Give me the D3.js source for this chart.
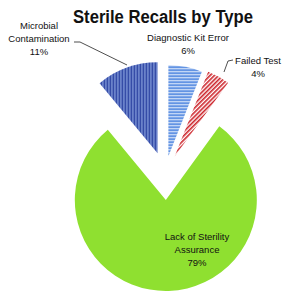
<!DOCTYPE html>
<html>
<head>
<meta charset="utf-8">
<script src="https://cdn.jsdelivr.net/npm/d3@7"></script>
<style>
  body { margin: 0; background: #fff; }
  text { font-family: "Liberation Sans", Arial, sans-serif; fill: #111; }
</style>
</head>
<body>
<svg width="290" height="299"></svg>
<script>
var categories = ["Diagnostic Kit Error", "Failed Test", "Lack of Sterility Assurance", "Microbial Contamination"];
var values = [6, 4, 79, 11];
var pctLabels = ["6%", "4%", "79%", "11%"];

var svg = d3.select("svg"),
  width = +svg.attr("width"),
  height = +svg.attr("height");

var cx = 165, cy = 174, radius = 91;
var explode = [18, 20, 26, 22];
var fills = ["url(#hstripe)", "url(#dstripe)", "#8fe030", "url(#vstripe)"];

var defs = svg.append("defs");

var v = defs.append("pattern").attr("id", "vstripe")
  .attr("patternUnits", "userSpaceOnUse").attr("width", 3).attr("height", 3);
v.append("rect").attr("width", 3).attr("height", 3).attr("fill", "#8ea6e2");
v.append("rect").attr("width", 1.6).attr("height", 3).attr("fill", "#22389a");

var h = defs.append("pattern").attr("id", "hstripe")
  .attr("patternUnits", "userSpaceOnUse").attr("width", 3).attr("height", 3);
h.append("rect").attr("width", 3).attr("height", 3).attr("fill", "#e8f0fc");
h.append("rect").attr("width", 3).attr("height", 1.8).attr("fill", "#4f86e0");

var dg = defs.append("pattern").attr("id", "dstripe")
  .attr("patternUnits", "userSpaceOnUse").attr("width", 3).attr("height", 3)
  .attr("patternTransform", "rotate(45)");
dg.append("rect").attr("width", 3).attr("height", 3).attr("fill", "#fff");
dg.append("rect").attr("width", 1.6).attr("height", 3).attr("fill", "#cc2229");

var pie = d3.pie().sort(null).value(function (d) { return d; });
var arc = d3.arc().innerRadius(0).outerRadius(radius);

var arcs = pie(values);

svg.append("g")
  .attr("transform", "translate(" + cx + "," + cy + ")")
  .selectAll("path")
  .data(arcs)
  .enter().append("path")
  .attr("transform", function (d, i) {
    var a = (d.startAngle + d.endAngle) / 2;
    return "translate(" + (Math.sin(a) * explode[i]) + "," + (-Math.cos(a) * explode[i]) + ")";
  })
  .attr("d", arc)
  .attr("fill", function (d, i) { return fills[i]; });

// title
svg.append("text")
  .attr("x", 163).attr("y", 23)
  .attr("text-anchor", "middle")
  .attr("textLength", 180)
  .attr("lengthAdjust", "spacingAndGlyphs")
  .style("font-weight", "bold")
  .style("font-size", "18px")
  .text("Sterile Recalls by Type");

// data labels
var labels = [
  { lines: ["Diagnostic Kit Error", pctLabels[0]], x: 188, y: 41 },
  { lines: ["Failed Test", pctLabels[1]], x: 258, y: 64 },
  { lines: ["Lack of Sterility", "Assurance", pctLabels[2]], x: 197, y: 240 },
  { lines: ["Microbial", "Contamination", pctLabels[3]], x: 39, y: 29 }
];

var lg = svg.append("g").selectAll("text")
  .data(labels)
  .enter().append("text")
  .attr("text-anchor", "middle")
  .style("font-size", "9.5px");

lg.selectAll("tspan")
  .data(function (d) { return d.lines.map(function (l) { return { t: l, x: d.x, y: d.y }; }); })
  .enter().append("tspan")
  .attr("x", function (d) { return d.x; })
  .attr("y", function (d, i) { return d.y + i * 13; })
  .text(function (d) { return d.t; });

// leader lines
var leaders = [
  [[74, 42], [80, 42], [127, 65]],
  [[233, 60], [228, 61], [224, 72]]
];
svg.append("g").selectAll("path")
  .data(leaders)
  .enter().append("path")
  .attr("d", d3.line())
  .attr("fill", "none")
  .attr("stroke", "#222")
  .attr("stroke-width", 0.8);
</script>
</body>
</html>
